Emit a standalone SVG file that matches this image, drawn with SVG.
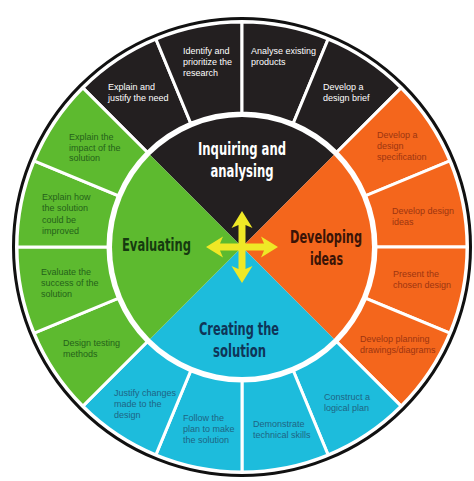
<svg xmlns="http://www.w3.org/2000/svg" xmlns:xlink="http://www.w3.org/1999/xlink" width="474" height="481" viewBox="0 0 474 481">
<style>
.seg{stroke:#ffffff;stroke-width:3;stroke-linejoin:miter}
.k{fill:#231f20}.o{fill:#f4661c}.b{fill:#1dbcdc}.g{fill:#5dba2f}
.t{font-family:"Liberation Sans",Arial,sans-serif;font-size:9px}
.tk{fill:#ffffff}.to{fill:#9c3510}.tb{fill:#1d6584}.tg{fill:#25621a}
.h{font-family:"Liberation Sans Narrow","DejaVu Sans Condensed","Liberation Sans",sans-serif;font-weight:bold;font-size:17px;text-anchor:middle}
</style>
<defs>
<polygon id="arm" points="0,-3.5 22,-3.5 19,-10.5 36,0 19,10.5 22,3.5 0,3.5" fill="#efe826"/>
</defs>
<rect width="474" height="481" fill="#ffffff"/>

<!-- inner quadrants -->
<g id="inquiring">
<path class="k" d="M242 247 L150.08 155.08 A130 130 0 0 1 333.92 155.08 Z"/>
<text class="h tk" x="242" y="155" textLength="88" lengthAdjust="spacingAndGlyphs">Inquiring and</text>
<text class="h tk" x="242" y="177" textLength="63" lengthAdjust="spacingAndGlyphs">analysing</text>
</g>
<g id="developing">
<path class="o" d="M242 247 L333.92 155.08 A130 130 0 0 1 333.92 338.92 Z"/>
<text class="h" fill="#3a1407" x="326" y="243" textLength="72" lengthAdjust="spacingAndGlyphs">Developing</text>
<text class="h" fill="#3a1407" x="326.5" y="265" textLength="33" lengthAdjust="spacingAndGlyphs">ideas</text>
</g>
<g id="creating">
<path class="b" d="M242 247 L333.92 338.92 A130 130 0 0 1 150.08 338.92 Z"/>
<text class="h" fill="#0f3558" x="239" y="335" textLength="80" lengthAdjust="spacingAndGlyphs">Creating the</text>
<text class="h" fill="#0f3558" x="239.5" y="357" textLength="53" lengthAdjust="spacingAndGlyphs">solution</text>
</g>
<g id="evaluating">
<path class="g" d="M242 247 L150.08 338.92 A130 130 0 0 1 150.08 155.08 Z"/>
<text class="h" fill="#163a10" x="156.5" y="251" textLength="69" lengthAdjust="spacingAndGlyphs">Evaluating</text>
</g>

<!-- outer ring: black -->
<g id="s-explain-justify">
<path class="seg k" d="M82.90 87.90 A225 225 0 0 1 155.90 39.13 L190.72 123.20 A134 134 0 0 0 147.25 152.25 Z"/>
<text class="t tk" x="108" y="90">Explain and</text>
<text class="t tk" x="108" y="101">justify the need</text>
</g>
<g id="s-identify">
<path class="seg k" d="M155.90 39.13 A225 225 0 0 1 242 22 L242 113 A134 134 0 0 0 190.72 123.20 Z"/>
<text class="t tk" x="183" y="54">Identify and</text>
<text class="t tk" x="183" y="65">prioritize the</text>
<text class="t tk" x="183" y="76">research</text>
</g>
<g id="s-analyse">
<path class="seg k" d="M242 22 A225 225 0 0 1 328.10 39.13 L293.28 123.20 A134 134 0 0 0 242 113 Z"/>
<text class="t tk" x="251" y="54">Analyse existing</text>
<text class="t tk" x="251" y="65">products</text>
</g>
<g id="s-brief">
<path class="seg k" d="M328.10 39.13 A225 225 0 0 1 401.10 87.90 L336.75 152.25 A134 134 0 0 0 293.28 123.20 Z"/>
<text class="t tk" x="323" y="90">Develop a</text>
<text class="t tk" x="323" y="101">design brief</text>
</g>

<!-- outer ring: orange -->
<g id="s-specification">
<path class="seg o" d="M401.10 87.90 A225 225 0 0 1 449.87 160.90 L365.80 195.72 A134 134 0 0 0 336.75 152.25 Z"/>
<text class="t to" x="377" y="138">Develop a</text>
<text class="t to" x="377" y="149">design</text>
<text class="t to" x="377" y="160">specification</text>
</g>
<g id="s-ideas">
<path class="seg o" d="M449.87 160.90 A225 225 0 0 1 467 247 L376 247 A134 134 0 0 0 365.80 195.72 Z"/>
<text class="t to" x="392" y="214">Develop design</text>
<text class="t to" x="392" y="225">ideas</text>
</g>
<g id="s-present">
<path class="seg o" d="M467 247 A225 225 0 0 1 449.87 333.10 L365.80 298.28 A134 134 0 0 0 376 247 Z"/>
<text class="t to" x="393" y="277">Present the</text>
<text class="t to" x="393" y="288">chosen design</text>
</g>
<g id="s-planning">
<path class="seg o" d="M449.87 333.10 A225 225 0 0 1 401.10 406.10 L336.75 341.75 A134 134 0 0 0 365.80 298.28 Z"/>
<text class="t to" x="360" y="342">Develop planning</text>
<text class="t to" x="360" y="353">drawings/diagrams</text>
</g>

<!-- outer ring: blue -->
<g id="s-logical">
<path class="seg b" d="M401.10 406.10 A225 225 0 0 1 328.10 454.87 L293.28 370.80 A134 134 0 0 0 336.75 341.75 Z"/>
<text class="t tb" x="324" y="400">Construct a</text>
<text class="t tb" x="324" y="411">logical plan</text>
</g>
<g id="s-technical">
<path class="seg b" d="M328.10 454.87 A225 225 0 0 1 242 472 L242 381 A134 134 0 0 0 293.28 370.80 Z"/>
<text class="t tb" x="253" y="427">Demonstrate</text>
<text class="t tb" x="253" y="438">technical skills</text>
</g>
<g id="s-follow">
<path class="seg b" d="M242 472 A225 225 0 0 1 155.90 454.87 L190.72 370.80 A134 134 0 0 0 242 381 Z"/>
<text class="t tb" x="183" y="421">Follow the</text>
<text class="t tb" x="183" y="432">plan to make</text>
<text class="t tb" x="183" y="443">the solution</text>
</g>
<g id="s-justify">
<path class="seg b" d="M155.90 454.87 A225 225 0 0 1 82.90 406.10 L147.25 341.75 A134 134 0 0 0 190.72 370.80 Z"/>
<text class="t tb" x="114" y="396">Justify changes</text>
<text class="t tb" x="114" y="407">made to the</text>
<text class="t tb" x="114" y="418">design</text>
</g>

<!-- outer ring: green -->
<g id="s-testing">
<path class="seg g" d="M82.90 406.10 A225 225 0 0 1 34.13 333.10 L118.20 298.28 A134 134 0 0 0 147.25 341.75 Z"/>
<text class="t tg" x="63" y="346">Design testing</text>
<text class="t tg" x="63" y="357">methods</text>
</g>
<g id="s-success">
<path class="seg g" d="M34.13 333.10 A225 225 0 0 1 17 247 L108 247 A134 134 0 0 0 118.20 298.28 Z"/>
<text class="t tg" x="41" y="275">Evaluate the</text>
<text class="t tg" x="41" y="286">success of the</text>
<text class="t tg" x="41" y="297">solution</text>
</g>
<g id="s-improved">
<path class="seg g" d="M17 247 A225 225 0 0 1 34.13 160.90 L118.20 195.72 A134 134 0 0 0 108 247 Z"/>
<text class="t tg" x="42" y="200">Explain how</text>
<text class="t tg" x="42" y="211">the solution</text>
<text class="t tg" x="42" y="223">could be</text>
<text class="t tg" x="42" y="234">improved</text>
</g>
<g id="s-impact">
<path class="seg g" d="M34.13 160.90 A225 225 0 0 1 82.90 87.90 L147.25 152.25 A134 134 0 0 0 118.20 195.72 Z"/>
<text class="t tg" x="69" y="140">Explain the</text>
<text class="t tg" x="69" y="151">impact of the</text>
<text class="t tg" x="69" y="161">solution</text>
</g>

<circle cx="242" cy="247" r="228.5" fill="none" stroke="#111111" stroke-width="3"/>

<g id="connectors">
<use xlink:href="#arm" transform="translate(242 247)"/>
<use xlink:href="#arm" transform="translate(242 247) rotate(90)"/>
<use xlink:href="#arm" transform="translate(242 247) rotate(180)"/>
<use xlink:href="#arm" transform="translate(242 247) rotate(270)"/>
</g>
</svg>
